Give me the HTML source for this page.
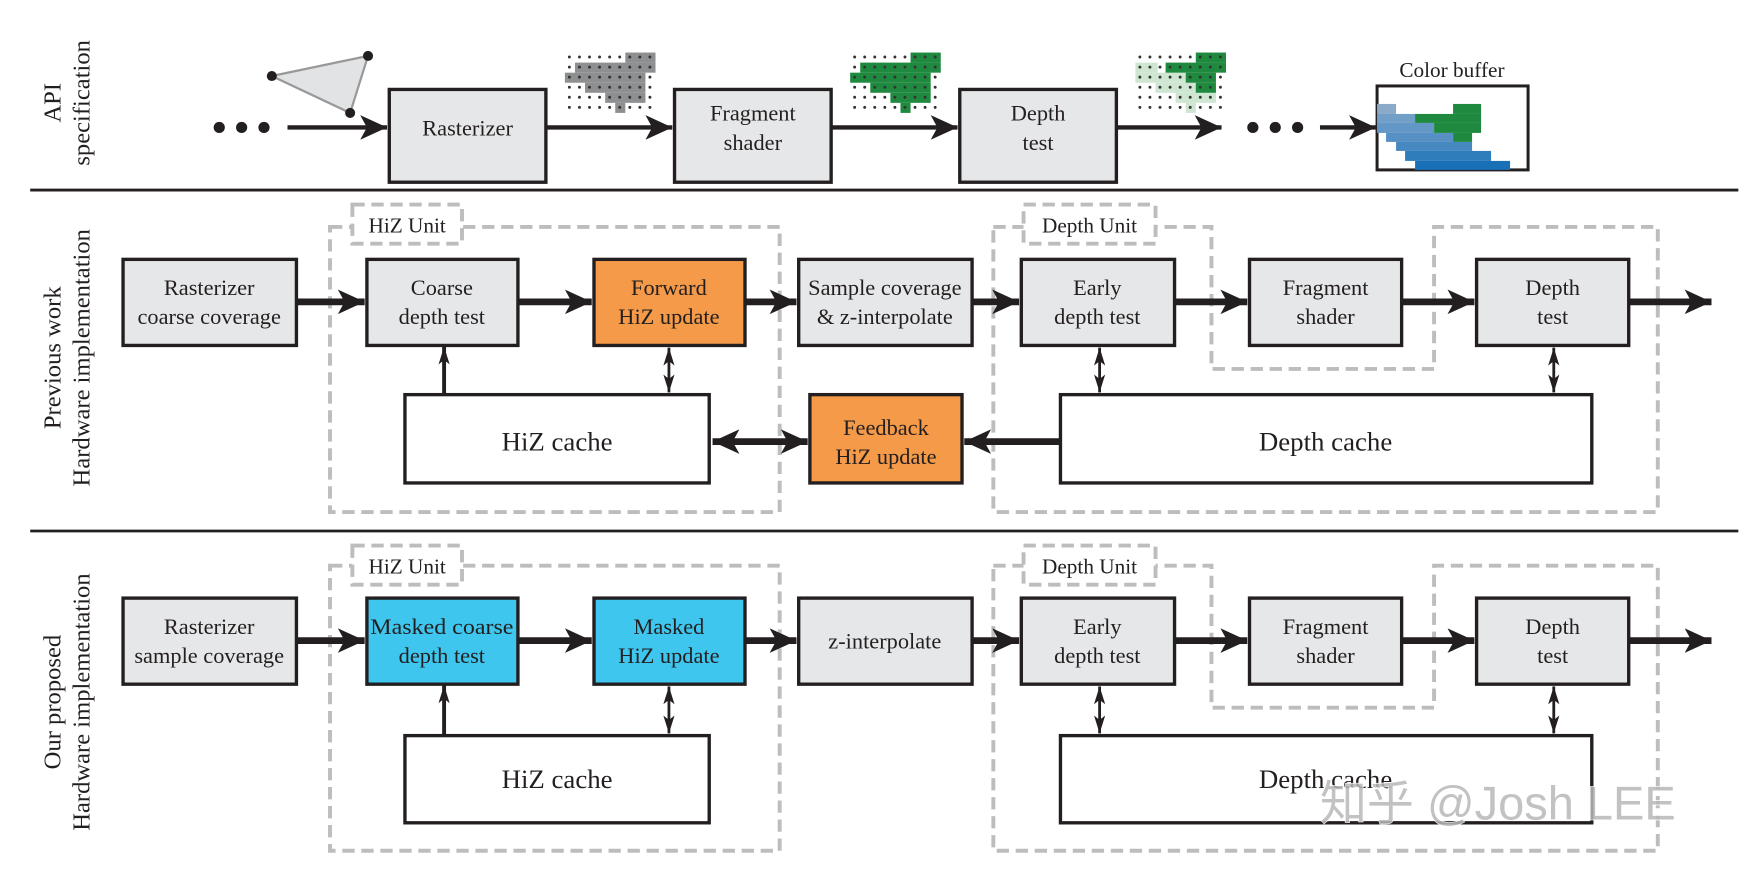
<!DOCTYPE html>
<html><head><meta charset="utf-8"><style>
html,body{margin:0;padding:0;background:#fff;}
svg{display:block;}
text{font-family:"Liberation Serif",serif;fill:#231f20;}
</style></head><body>
<svg width="1754" height="872" viewBox="0 0 1568 780" preserveAspectRatio="none" xmlns="http://www.w3.org/2000/svg">
<defs>
<marker id="ah" viewBox="0 0 24 22" refX="24" refY="11" markerWidth="24" markerHeight="22" orient="auto-start-reverse" markerUnits="userSpaceOnUse"><path d="M0,0 L24,11 L0,22 L6,11 z" fill="#231f20"/></marker>
<marker id="as" viewBox="0 0 16 10" refX="16" refY="5" markerWidth="16" markerHeight="10" orient="auto-start-reverse" markerUnits="userSpaceOnUse"><path d="M0,0 L16,5 L0,10 L4,5 z" fill="#231f20"/></marker>
</defs>
<rect width="1568" height="780" fill="#fff"/>

<!-- separators -->
<line x1="27" y1="170" x2="1554" y2="170" stroke="#231f20" stroke-width="2.5"/>
<line x1="27" y1="475" x2="1554" y2="475" stroke="#231f20" stroke-width="2.5"/>

<!-- left labels -->
<g font-size="22" text-anchor="middle">
<text transform="translate(54,92) rotate(-90)">API</text>
<text transform="translate(80,92) rotate(-90)">specification</text>
<text transform="translate(54,320) rotate(-90)">Previous work</text>
<text transform="translate(80,320) rotate(-90)">Hardware implementation</text>
<text transform="translate(54,628) rotate(-90)">Our proposed</text>
<text transform="translate(80,628) rotate(-90)">Hardware implementation</text>
</g>

<!-- ===== top row ===== -->
<g fill="#231f20"><circle cx="196" cy="114" r="5"/><circle cx="216" cy="114" r="5"/><circle cx="236" cy="114" r="5"/>
<circle cx="1120" cy="114" r="5"/><circle cx="1140" cy="114" r="5"/><circle cx="1160" cy="114" r="5"/></g>
<polygon points="243,68 329,50 313,101" fill="#e2e3e4" stroke="#999" stroke-width="2"/>
<g fill="#231f20"><circle cx="243" cy="68" r="4.5"/><circle cx="329" cy="50" r="4.5"/><circle cx="313" cy="101" r="4.5"/></g>
<g stroke="#231f20" stroke-width="4" marker-end="url(#ah)">
<line x1="257" y1="114" x2="346" y2="114"/>
<line x1="488" y1="114" x2="601" y2="114"/>
<line x1="743" y1="114" x2="856" y2="114"/>
<line x1="998" y1="114" x2="1092" y2="114"/>
<line x1="1180" y1="114" x2="1230" y2="114"/>
</g>
<g fill="#e6e7e8" stroke="#231f20" stroke-width="3">
<rect x="348" y="80" width="140" height="83"/>
<rect x="603" y="80" width="140" height="83"/>
<rect x="858" y="80" width="140" height="83"/>
</g>
<g font-size="20" text-anchor="middle">
<text x="418" y="121">Rasterizer</text>
<text x="673" y="108">Fragment</text><text x="673" y="134">shader</text>
<text x="928" y="108">Depth</text><text x="928" y="134">test</text>
<text x="1298" y="69" font-size="19">Color buffer</text>
</g>

<!-- pixel grids -->
<g id="g1">
<g fill="#8e8f91">
<rect x="559" y="47" width="27" height="9"/><rect x="514" y="56" width="72" height="9"/><rect x="505" y="65" width="72" height="9"/><rect x="523" y="74" width="54" height="9"/><rect x="541" y="83" width="36" height="9"/><rect x="550" y="92" width="9" height="9"/>
</g></g>
<g fill="#1f8a3f">
<rect x="814" y="47" width="27" height="9"/><rect x="769" y="56" width="72" height="9"/><rect x="760" y="65" width="72" height="9"/><rect x="778" y="74" width="54" height="9"/><rect x="796" y="83" width="36" height="9"/><rect x="805" y="92" width="9" height="9"/>
</g>
<g fill="#cfe6d3">
<rect x="1015" y="56" width="20" height="9"/><rect x="1015" y="65" width="45" height="9"/><rect x="1033" y="74" width="45" height="9"/><rect x="1051" y="83" width="36" height="9"/><rect x="1060" y="92" width="9" height="9"/>
</g>
<g fill="#1f8a3f">
<rect x="1069" y="47" width="27" height="9"/><rect x="1042" y="56" width="54" height="9"/><rect x="1060" y="65" width="27" height="9"/><rect x="1069" y="74" width="18" height="9"/>
</g>
<g fill="#333">
<g id="dots">
<circle cx="509" cy="51" r="1.3"/><circle cx="518" cy="51" r="1.3"/><circle cx="527" cy="51" r="1.3"/><circle cx="536" cy="51" r="1.3"/><circle cx="545" cy="51" r="1.3"/><circle cx="554" cy="51" r="1.3"/><circle cx="563" cy="51" r="1.3"/><circle cx="572" cy="51" r="1.3"/><circle cx="581" cy="51" r="1.3"/>
<circle cx="509" cy="60" r="1.3"/><circle cx="518" cy="60" r="1.3"/><circle cx="527" cy="60" r="1.3"/><circle cx="536" cy="60" r="1.3"/><circle cx="545" cy="60" r="1.3"/><circle cx="554" cy="60" r="1.3"/><circle cx="563" cy="60" r="1.3"/><circle cx="572" cy="60" r="1.3"/><circle cx="581" cy="60" r="1.3"/>
<circle cx="509" cy="69" r="1.3"/><circle cx="518" cy="69" r="1.3"/><circle cx="527" cy="69" r="1.3"/><circle cx="536" cy="69" r="1.3"/><circle cx="545" cy="69" r="1.3"/><circle cx="554" cy="69" r="1.3"/><circle cx="563" cy="69" r="1.3"/><circle cx="572" cy="69" r="1.3"/><circle cx="581" cy="69" r="1.3"/>
<circle cx="509" cy="78" r="1.3"/><circle cx="518" cy="78" r="1.3"/><circle cx="527" cy="78" r="1.3"/><circle cx="536" cy="78" r="1.3"/><circle cx="545" cy="78" r="1.3"/><circle cx="554" cy="78" r="1.3"/><circle cx="563" cy="78" r="1.3"/><circle cx="572" cy="78" r="1.3"/><circle cx="581" cy="78" r="1.3"/>
<circle cx="509" cy="87" r="1.3"/><circle cx="518" cy="87" r="1.3"/><circle cx="527" cy="87" r="1.3"/><circle cx="536" cy="87" r="1.3"/><circle cx="545" cy="87" r="1.3"/><circle cx="554" cy="87" r="1.3"/><circle cx="563" cy="87" r="1.3"/><circle cx="572" cy="87" r="1.3"/><circle cx="581" cy="87" r="1.3"/>
<circle cx="509" cy="96" r="1.3"/><circle cx="518" cy="96" r="1.3"/><circle cx="527" cy="96" r="1.3"/><circle cx="536" cy="96" r="1.3"/><circle cx="545" cy="96" r="1.3"/><circle cx="554" cy="96" r="1.3"/><circle cx="563" cy="96" r="1.3"/><circle cx="572" cy="96" r="1.3"/><circle cx="581" cy="96" r="1.3"/>
</g>
<use href="#dots" x="255"/>
<use href="#dots" x="510"/>
</g>

<!-- color buffer (actual coords scaled) -->
<g transform="scale(0.8940)">
<rect x="1377" y="86" width="151" height="84" fill="#fff" stroke="#231f20" stroke-width="3"/>
<rect x="1377" y="104" width="19" height="10" fill="#8aaac8"/>
<rect x="1377" y="114" width="38" height="9" fill="#729fc8"/>
<rect x="1377" y="123" width="57" height="10" fill="#6397c6"/>
<rect x="1386" y="133" width="67" height="9" fill="#5690c4"/>
<rect x="1396" y="142" width="76" height="9" fill="#4688c0"/>
<rect x="1405" y="151" width="86" height="10" fill="#2f7dbb"/>
<rect x="1415" y="161" width="95" height="9" fill="#1a70b6"/>
<rect x="1453" y="104" width="28" height="10" fill="#1f8a3f"/>
<rect x="1415" y="114" width="66" height="9" fill="#1f8a3f"/>
<rect x="1434" y="123" width="47" height="10" fill="#1f8a3f"/>
<rect x="1453" y="133" width="19" height="9" fill="#1f8a3f"/>
</g>

<!-- ===== dashed groups ===== -->
<g fill="none" stroke="#bdbdbd" stroke-width="3.5" stroke-dasharray="11 6">
<rect x="295" y="203" width="402" height="255"/>
<path d="M888,203 H1083 V330 H1282 V203 H1482 V458 H888 Z"/>
<rect x="295" y="506" width="402" height="255"/>
<path d="M888,506 H1083 V633 H1282 V506 H1482 V761 H888 Z"/>
</g>
<g fill="#fff" stroke="#bdbdbd" stroke-width="3.5" stroke-dasharray="11 6">
<rect x="315" y="183" width="98" height="35"/>
<rect x="915" y="183" width="118" height="35"/>
<rect x="315" y="488" width="98" height="35"/>
<rect x="915" y="488" width="118" height="35"/>
</g>
<g font-size="19" text-anchor="middle">
<text x="364" y="208">HiZ Unit</text>
<text x="974" y="208">Depth Unit</text>
<text x="364" y="513">HiZ Unit</text>
<text x="974" y="513">Depth Unit</text>
</g>

<!-- ===== row 2 arrows ===== -->
<g stroke="#231f20" stroke-width="6" marker-end="url(#ah)">
<line x1="265" y1="270" x2="326" y2="270"/>
<line x1="463" y1="270" x2="529" y2="270"/>
<line x1="666" y1="270" x2="712" y2="270"/>
<line x1="869" y1="270" x2="911" y2="270"/>
<line x1="1050" y1="270" x2="1115" y2="270"/>
<line x1="1253" y1="270" x2="1318" y2="270"/>
<line x1="1456" y1="270" x2="1530" y2="270"/>
<line x1="948" y1="395" x2="862" y2="395"/>
<line x1="1456" y1="573" x2="1530" y2="573"/>
<line x1="265" y1="573" x2="326" y2="573"/>
<line x1="463" y1="573" x2="529" y2="573"/>
<line x1="666" y1="573" x2="712" y2="573"/>
<line x1="869" y1="573" x2="911" y2="573"/>
<line x1="1050" y1="573" x2="1115" y2="573"/>
<line x1="1253" y1="573" x2="1318" y2="573"/>
</g>
<line x1="637" y1="395" x2="722" y2="395" stroke="#231f20" stroke-width="6" marker-start="url(#ah)" marker-end="url(#ah)"/>
<g stroke="#231f20" stroke-width="2.5">
<line x1="397" y1="353" x2="397" y2="310" marker-end="url(#as)" stroke-width="3.5"/>
<line x1="598" y1="311" x2="598" y2="351" marker-start="url(#as)" marker-end="url(#as)"/>
<line x1="983" y1="311" x2="983" y2="351" marker-start="url(#as)" marker-end="url(#as)"/>
<line x1="1389" y1="311" x2="1389" y2="351" marker-start="url(#as)" marker-end="url(#as)"/>
<line x1="397" y1="658" x2="397" y2="613" marker-end="url(#as)" stroke-width="3.5"/>
<line x1="598" y1="614" x2="598" y2="656" marker-start="url(#as)" marker-end="url(#as)"/>
<line x1="983" y1="614" x2="983" y2="656" marker-start="url(#as)" marker-end="url(#as)"/>
<line x1="1389" y1="614" x2="1389" y2="656" marker-start="url(#as)" marker-end="url(#as)"/>
</g>

<!-- ===== row 2 boxes ===== -->
<g stroke="#231f20" stroke-width="3">
<rect x="110" y="232" width="155" height="77" fill="#e6e7e8"/>
<rect x="328" y="232" width="135" height="77" fill="#e6e7e8"/>
<rect x="531" y="232" width="135" height="77" fill="#f49a48"/>
<rect x="714" y="232" width="155" height="77" fill="#e6e7e8"/>
<rect x="913" y="232" width="137" height="77" fill="#e6e7e8"/>
<rect x="1117" y="232" width="136" height="77" fill="#e6e7e8"/>
<rect x="1320" y="232" width="136" height="77" fill="#e6e7e8"/>
<rect x="362" y="353" width="272" height="79" fill="#fff"/>
<rect x="724" y="353" width="136" height="79" fill="#f49a48"/>
<rect x="948" y="353" width="475" height="79" fill="#fff"/>
<!-- row 3 -->
<rect x="110" y="535" width="155" height="77" fill="#e6e7e8"/>
<rect x="328" y="535" width="135" height="77" fill="#3ec6ee"/>
<rect x="531" y="535" width="135" height="77" fill="#3ec6ee"/>
<rect x="714" y="535" width="155" height="77" fill="#e6e7e8"/>
<rect x="913" y="535" width="137" height="77" fill="#e6e7e8"/>
<rect x="1117" y="535" width="136" height="77" fill="#e6e7e8"/>
<rect x="1320" y="535" width="136" height="77" fill="#e6e7e8"/>
<rect x="362" y="658" width="272" height="78" fill="#fff"/>
<rect x="948" y="658" width="475" height="78" fill="#fff"/>
</g>
<g font-size="20" text-anchor="middle">
<text x="187" y="264">Rasterizer</text><text x="187" y="290">coarse coverage</text>
<text x="395" y="264">Coarse</text><text x="395" y="290">depth test</text>
<text x="598" y="264">Forward</text><text x="598" y="290">HiZ update</text>
<text x="791" y="264">Sample coverage</text><text x="791" y="290">&amp; z-interpolate</text>
<text x="981" y="264">Early</text><text x="981" y="290">depth test</text>
<text x="1185" y="264">Fragment</text><text x="1185" y="290">shader</text>
<text x="1388" y="264">Depth</text><text x="1388" y="290">test</text>
<text x="792" y="389">Feedback</text><text x="792" y="415">HiZ update</text>
<text x="498" y="403" font-size="24">HiZ cache</text>
<text x="1185" y="403" font-size="24">Depth cache</text>

<text x="187" y="567">Rasterizer</text><text x="187" y="593">sample coverage</text>
<text x="395" y="567" textLength="128" lengthAdjust="spacingAndGlyphs">Masked coarse</text><text x="395" y="593">depth test</text>
<text x="598" y="567">Masked</text><text x="598" y="593">HiZ update</text>
<text x="791" y="580">z-interpolate</text>
<text x="981" y="567">Early</text><text x="981" y="593">depth test</text>
<text x="1185" y="567">Fragment</text><text x="1185" y="593">shader</text>
<text x="1388" y="567">Depth</text><text x="1388" y="593">test</text>
<text x="498" y="705" font-size="24">HiZ cache</text>
<text x="1185" y="705" font-size="24">Depth cache</text>
</g>

<!-- watermark -->
<text x="1180" y="733" font-size="42" font-family="'Liberation Sans','Noto Sans CJK SC',sans-serif" style="font-family:'Liberation Sans','Noto Sans CJK SC',sans-serif;fill:#b8b8b8;stroke:#fff;stroke-width:1.5;paint-order:stroke;opacity:0.85">知乎 @Josh LEE</text>
</svg>
</body></html>
